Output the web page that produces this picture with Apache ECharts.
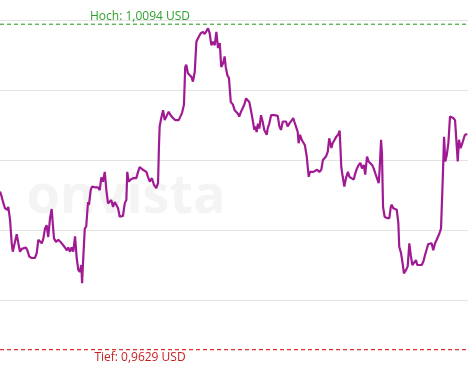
<!DOCTYPE html>
<html>
<head>
<meta charset="utf-8">
<script src="https://cdn.jsdelivr.net/npm/echarts@6/dist/echarts.min.js"></script>
<style>
html,body{margin:0;padding:0;background:#fff;}
#c{width:468px;height:370px;}
</style>
</head>
<body>
<div id="c"></div>
<script>
// Trading-day index (x) and price in USD (y)
const days = [0,0.9,1.8,2.8,3.3,4.1,4.6,5.6,6.5,7.1,8.3,9.3,10.2,11.1,12.1,12.9,14.4,15.2,16.3,17.6,19.4,20.4,21.3,22.2,23.2,24.1,25,25.9,26.8,27.8,28.7,29.3,30,31.1,32.4,33.3,34.3,35.2,36.1,37.1,37.9,38.9,39.8,40.7,41.7,42.6,43.5,44.3,45.2,45.6,46.1,47.1,47.9,48.9,49.4,50.4,51.1,52.6,54.4,55.4,56.3,57.2,58.2,59.1,60,60.9,61.8,62.8,63.7,64.6,65.6,66.5,67.4,68.3,69.3,70.2,70.7,71.5,72.6,73.9,74.8,75.7,76.7,77.6,78.5,79.4,80.4,81.3,82.2,83.2,84.4,85.6,86.8,87.8,88.3,88.7,89.6,90.6,91.5,92.4,93.7,94.8,96.1,97.4,98.5,99.3,100.4,101.1,102.2,102.9,103.5,104.4,105.4,106.3,107.2,108.2,109.1,110,111.5,112.2,112.8,113.7,114.6,115.6,116.5,117.4,118.3,119.3,120.2,121.1,122.1,122.9,123.9,124.8,125.4,126.3,127.2,128.2,129.4,130.4,131.3,132.2,132.9,133.9,134.8,135.7,136.7,137.6,138.5,139.4,140.4,141.3,141.8,142.6,143.3,144.1,145,145.9,146.8,148.2,148.7,149.6,150.6,152.4,154.3,155.2,156.1,157.1,157.9,158.9,159.8,160.7,162.2,162.9,163.5,164.4,165.4,165.9,166.7,167.6,168.5,169.4,170.4,171.5,172.2,173.2,174.1,175.2,176.1,177.4,178.5,179.4,180.4,181.1,182.1,182.9,184.1,184.8,185.9,186.7,187.8,188.7,189.6,190.4,191.3,192.2,193.3,194.1,195.2,196.5,197.4,198.3,199.3,200.2,201.1,202.1,202.9,203.9,204.8,205.7,206.7,207.6,208.5,209.4,210.4,210.9,211.7,212.2,212.8,213.7,215,216.3,217.1,217.6,218.5,219.4,220.4,221.3,221.8,222.8,223.7,224.4,225.6,226.5,227.4,228.2,229.1,230,231.1,231.8,232.9,234.3,235.2,236.1,237.1,237.9,238.9,239.8,240.7,241.7,242.6,244.1,245,245.9,246.7,247.4,248.2,249.1,250,250.9,251.8,252.8,253.7,254.3,255,255.9,257.1,258.3,259.6];
const prices = [0.9855,0.9848,0.9839,0.9831,0.9833,0.9829,0.9833,0.9814,0.9781,0.9769,0.9783,0.9794,0.9781,0.9769,0.9773,0.9773,0.9775,0.9771,0.9762,0.9760,0.9760,0.9767,0.9786,0.9787,0.9781,0.9788,0.9802,0.9807,0.9790,0.9817,0.9830,0.9810,0.9788,0.9783,0.9786,0.9787,0.9781,0.9779,0.9775,0.9771,0.9775,0.9769,0.9775,0.9769,0.9791,0.9760,0.9743,0.9740,0.9750,0.9724,0.9752,0.9802,0.9805,0.9840,0.9836,0.9857,0.9862,0.9861,0.9861,0.9857,0.9875,0.9869,0.9883,0.9857,0.9838,0.9836,0.9843,0.9833,0.9840,0.9836,0.9831,0.9819,0.9821,0.9820,0.9838,0.9843,0.9883,0.9869,0.9872,0.9874,0.9876,0.9874,0.9883,0.9890,0.9891,0.9886,0.9888,0.9883,0.9876,0.9869,0.9874,0.9864,0.9860,0.9867,0.9919,0.9948,0.9960,0.9971,0.9957,0.9962,0.9969,0.9964,0.9960,0.9957,0.9955,0.9957,0.9957,0.9967,0.9979,1.0033,1.0036,1.0024,1.0026,1.0019,1.0012,1.0026,1.0069,1.0074,1.0081,1.0079,1.0083,1.0080,1.0082,1.0088,1.0081,1.0064,1.0069,1.0064,1.0083,1.0060,1.0067,1.0033,1.0038,1.0048,1.0033,1.0021,1.0017,0.9983,0.9979,0.9971,0.9969,0.9966,0.9962,0.9969,0.9969,0.9979,0.9988,0.9990,0.9983,0.9971,0.9957,0.9943,0.9948,0.9940,0.9952,0.9945,0.9964,0.9955,0.9943,0.9936,0.9945,0.9952,0.9964,0.9964,0.9963,0.9948,0.9943,0.9955,0.9957,0.9955,0.9948,0.9952,0.9957,0.9960,0.9955,0.9948,0.9940,0.9924,0.9936,0.9929,0.9929,0.9921,0.9905,0.9876,0.9883,0.9881,0.9883,0.9883,0.9886,0.9883,0.9886,0.9900,0.9898,0.9905,0.9912,0.9931,0.9917,0.9924,0.9929,0.9933,0.9936,0.9942,0.9890,0.9876,0.9862,0.9874,0.9883,0.9876,0.9874,0.9872,0.9881,0.9888,0.9893,0.9896,0.9888,0.9893,0.9879,0.9905,0.9898,0.9898,0.9893,0.9888,0.9881,0.9879,0.9867,0.9886,0.9929,0.9910,0.9833,0.9819,0.9817,0.9817,0.9833,0.9836,0.9831,0.9833,0.9829,0.9810,0.9776,0.9767,0.9752,0.9738,0.9743,0.9748,0.9781,0.9764,0.9750,0.9752,0.9757,0.9750,0.9748,0.9750,0.9755,0.9764,0.9766,0.9780,0.9781,0.9781,0.9771,0.9781,0.9786,0.9795,0.9802,0.9867,0.9933,0.9898,0.9907,0.9924,0.9962,0.9960,0.9960,0.9957,0.9958,0.9898,0.9929,0.9917,0.9926,0.9936,0.9937];
const high = 1.0094;
const low = 0.9629;
const highLabel = 'Hoch: 1,0094 USD';
const lowLabel = 'Tief: 0,9629 USD';
const watermark = 'onvista';
const xRange = [0, 260];

const chart = echarts.init(document.getElementById('c'), null, {renderer: 'canvas'});
chart.setOption({
  animation: false,
  backgroundColor: '#ffffff',
  grid: {left: 0, right: 0, top: 20, bottom: 0, containLabel: false},
  xAxis: {
    type: 'value', min: xRange[0], max: xRange[1],
    axisLine: {show: false}, axisTick: {show: false}, axisLabel: {show: false}, splitLine: {show: false}
  },
  yAxis: {
    type: 'value', min: 0.96, max: 1.01, interval: 0.01,
    axisLine: {show: false}, axisTick: {show: false}, axisLabel: {show: false},
    splitLine: {show: true, showMinLine: false, lineStyle: {color: '#e3e3e3', width: 1}}
  },
  graphic: [
    {type: 'text', z: 0, x: 126, y: 198, style: {text: watermark, fill: '#f4f4f4', font: 'bold 54px "Open Sans"', align: 'center', verticalAlign: 'middle'}},
    {type: 'text', z: 10, x: 140, y: 17, style: {text: highLabel, fill: '#2fa12f', font: '12px "Open Sans"', align: 'center', verticalAlign: 'middle'}},
    {type: 'text', z: 10, x: 140, y: 358, style: {text: lowLabel, fill: '#c82020', font: '12px "Open Sans"', align: 'center', verticalAlign: 'middle'}}
  ],
  series: [
    {
      type: 'line',
      data: days.map((d, i) => [d, prices[i]]),
      showSymbol: false,
      symbol: 'none',
      lineStyle: {color: '#a01b93', width: 2.2},
      z: 5
    },
    {
      type: 'line',
      data: xRange.map(d => [d, high]),
      symbol: 'none',
      silent: true,
      lineStyle: {color: '#129a12', type: [4, 3], width: 1},
      z: 4
    },
    {
      type: 'line',
      data: xRange.map(d => [d, low]),
      symbol: 'none',
      silent: true,
      lineStyle: {color: '#d40000', type: [4, 3], width: 1},
      z: 4
    }
  ]
});
</script>
</body>
</html>
